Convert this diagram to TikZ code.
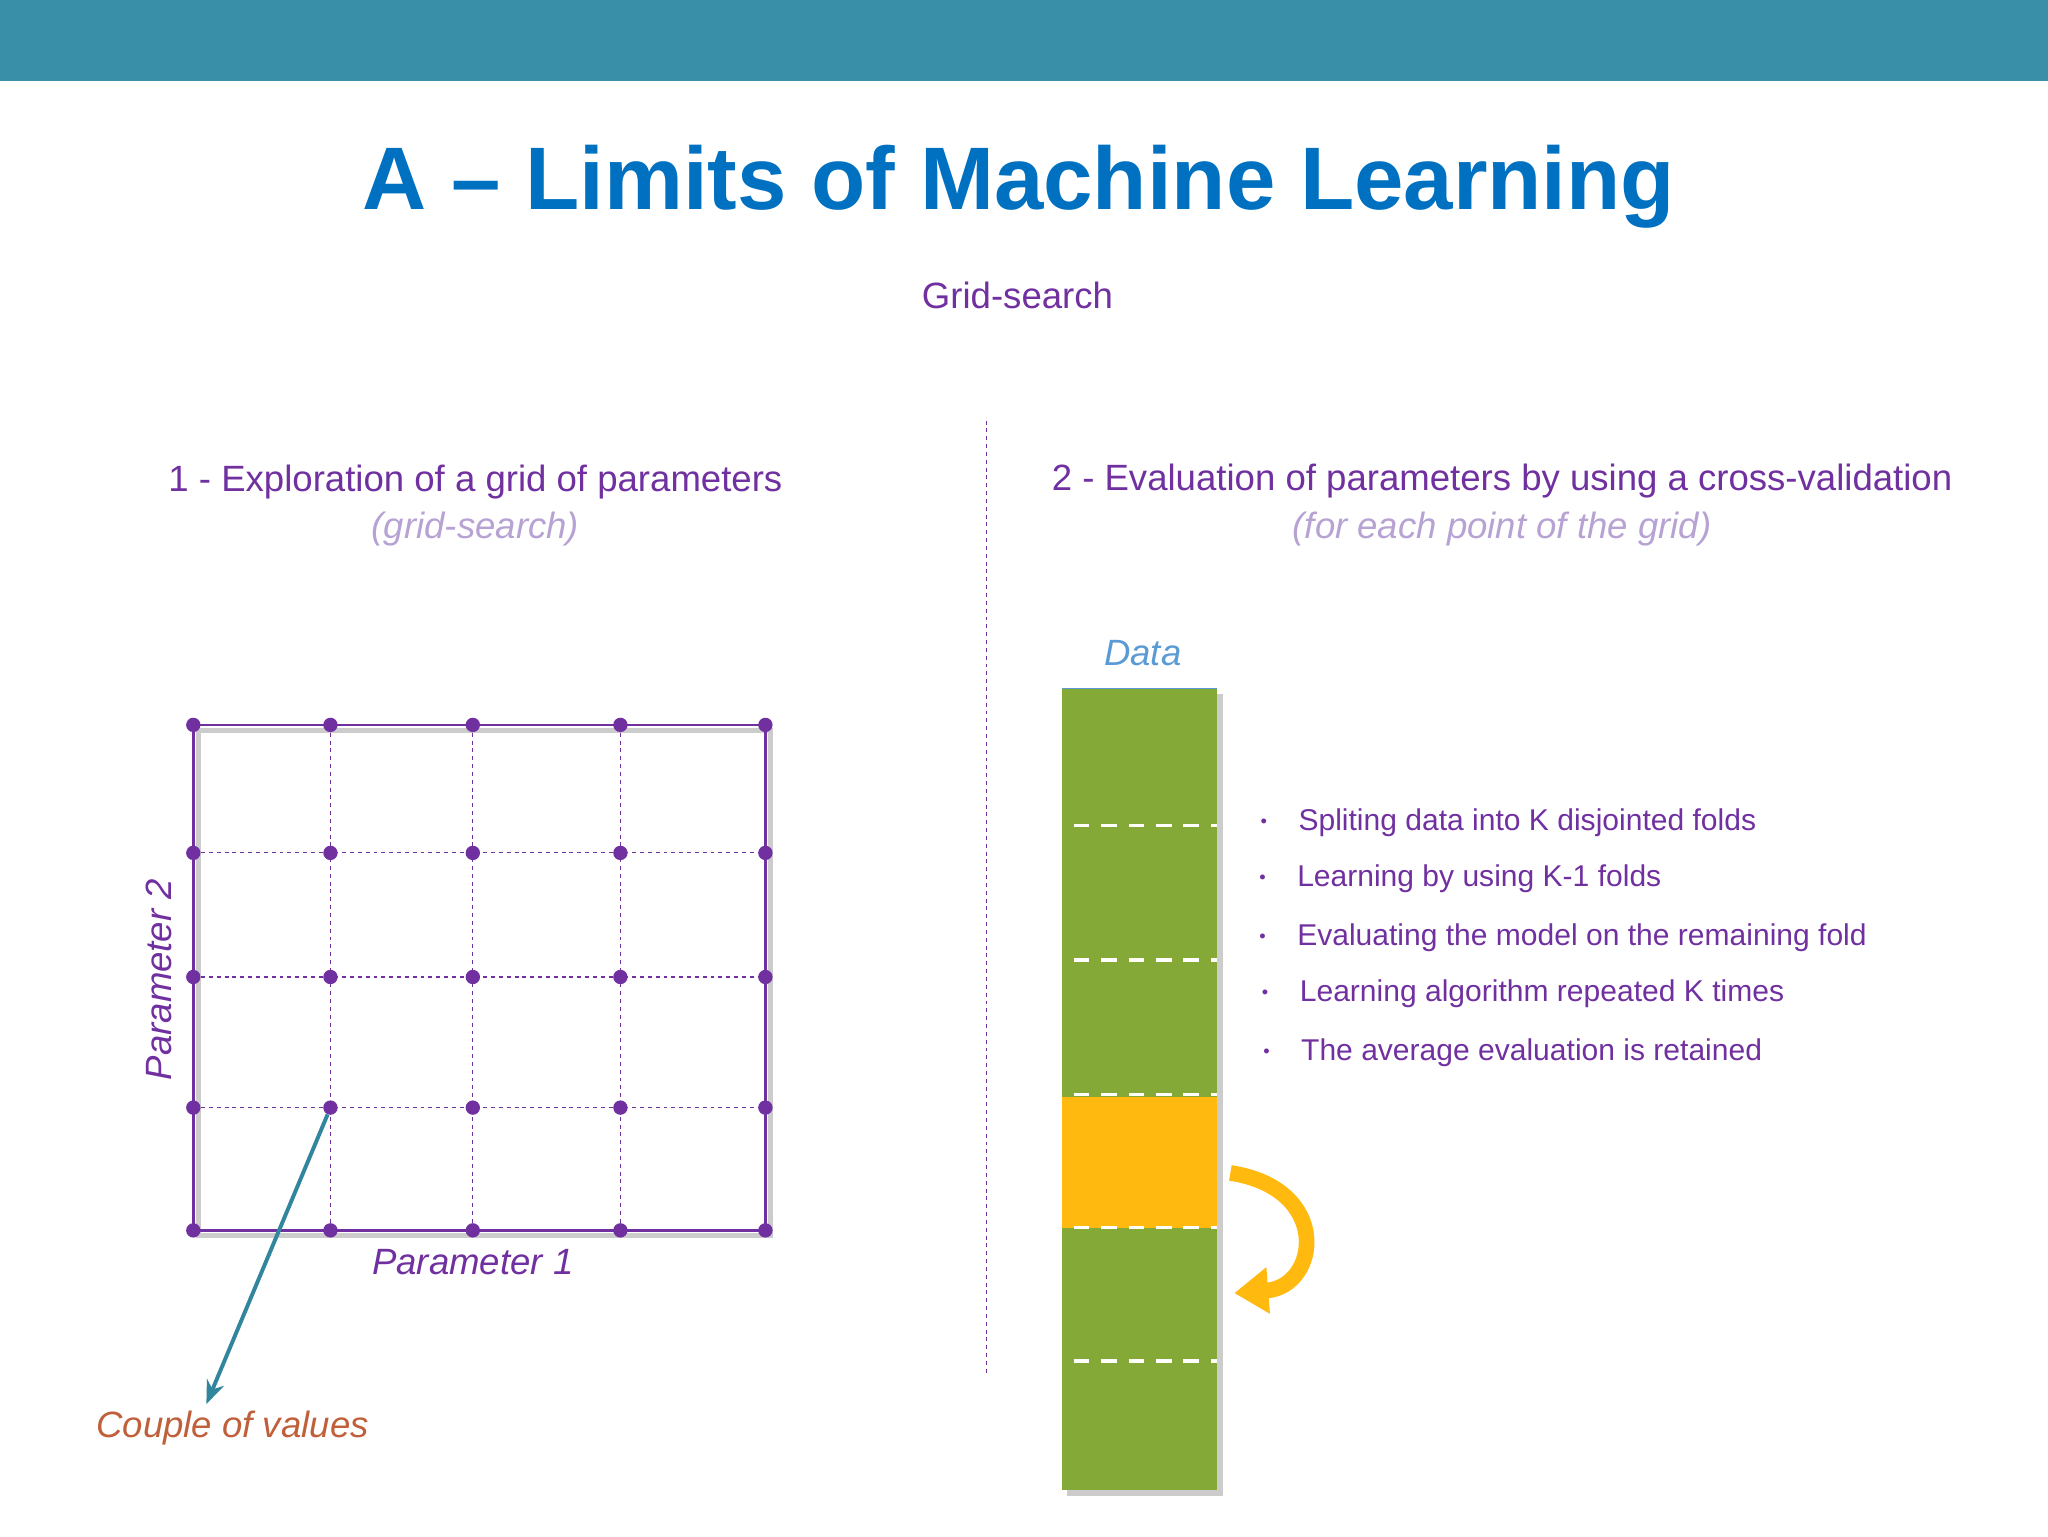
\documentclass[tikz,border=0pt]{standalone}
\usepackage{fontspec}
\setmainfont{Liberation Sans}
\usetikzlibrary{arrows.meta}
\definecolor{band}{HTML}{3A8FA8}
\definecolor{ttl}{HTML}{0070C0}
\definecolor{pur}{HTML}{7030A0}
\definecolor{lpur}{HTML}{B7A3D3}
\definecolor{teal}{HTML}{31859C}
\definecolor{rust}{HTML}{C0603A}
\definecolor{dblue}{HTML}{5B9BD5}
\definecolor{grn}{HTML}{84A936}
\definecolor{org}{HTML}{FFB90F}
\tikzset{
 txt/.style={text=pur,font=\fontsize{28}{32}\selectfont,inner sep=0},
 sub/.style={text=lpur,font=\fontsize{28}{32}\selectfont\itshape,inner sep=0},
 bul/.style={text=pur,font=\fontsize{23}{26}\selectfont,inner sep=0,anchor=west},
 dot/.style={circle,fill=pur,inner sep=0,minimum size=11pt},
 wdash/.style={white,line width=2.5pt,dash pattern=on 12pt off 9pt}
}
\begin{document}
\begin{tikzpicture}[x=1pt,y=-1pt]
\useasboundingbox (0,0) rectangle (1568,1176);
\fill[band] (0,0) rectangle (1568,62);
\node[text=ttl,font=\fontsize{68}{72}\selectfont\bfseries,inner sep=0] (title) at (780,143) {A -- Limits of Machine Learning};
\node[txt] (gs) at (779,226) {Grid-search};
\draw[pur,thick,dashed] (755,322) -- (755,1052);
\node[txt] (h1) at (364,369) {1 - Exploration of a grid of parameters};
\node[sub] (s1) at (364,405) {(grid-search)};
\node[txt] (h2) at (1150,368) {2 - Evaluation of parameters by using a cross-validation};
\node[sub] (s2) at (1150,405) {(for each point of the grid)};
% grid
\draw[gray!40,line width=4pt] (152,559) rectangle (590,946);
\foreach \x in {253,362,475} \draw[pur,thick,dashed] (\x,555) -- (\x,942);
\foreach \y in {653,748,848} \draw[pur,thick,dashed] (148,\y) -- (586,\y);
\draw[pur,line width=2pt] (148,555) rectangle (586,942);
\foreach \x [count=\i] in {148,253,362,475,586}
 \foreach \y [count=\j] in {555,653,748,848,942}
  \node[dot] (d\i\j) at (\x,\y) {};
\node[txt,font=\fontsize{28}{32}\selectfont\itshape,rotate=90] (p2) at (122,750) {Parameter 2};
\node[txt,font=\fontsize{28}{32}\selectfont\itshape] (p1) at (362,966) {Parameter 1};
\node[text=rust,font=\fontsize{28}{32}\selectfont\itshape,inner sep=0] (cv) at (178,1093) {Couple of values};
\coordinate (ae) at (158,1075);
\draw[teal,line width=3pt,-{Stealth[length=18pt,width=14pt]}] (d24) -- (ae);
% data bar
\node[text=dblue,font=\fontsize{28}{32}\selectfont\itshape,inner sep=0] (data) at (875,500) {Data};
\fill[gray!40] (817,531) rectangle (936,1145);
\fill[grn] (813,527) rectangle (932,1141);
\fill[org] (813,840) rectangle (932,940);
\draw[dblue,thick] (813,527) -- (932,527);
\foreach \y in {632,735,838,940,1042} \draw[wdash] (822,\y) -- (932,\y);
\draw[org,line width=12pt,-{Triangle[length=26pt,width=34pt]}] (942,898) .. controls (1020,910) and (1010,985) .. (945,990);
% bullets
\foreach \t/\y/\xx in {{Spliting data into K disjointed folds}/630/970,{Learning by using K-1 folds}/673/969,{Evaluating the model on the remaining fold}/718/969,{Learning algorithm repeated K times}/761/971,{The average evaluation is retained}/806/972}{
 \node[bul,text=pur,font=\fontsize{14}{14}\selectfont] at (\xx-5,\y) {•};
 \node[bul] at (\xx+24,\y) {\t};
}
\end{tikzpicture}
\end{document}
